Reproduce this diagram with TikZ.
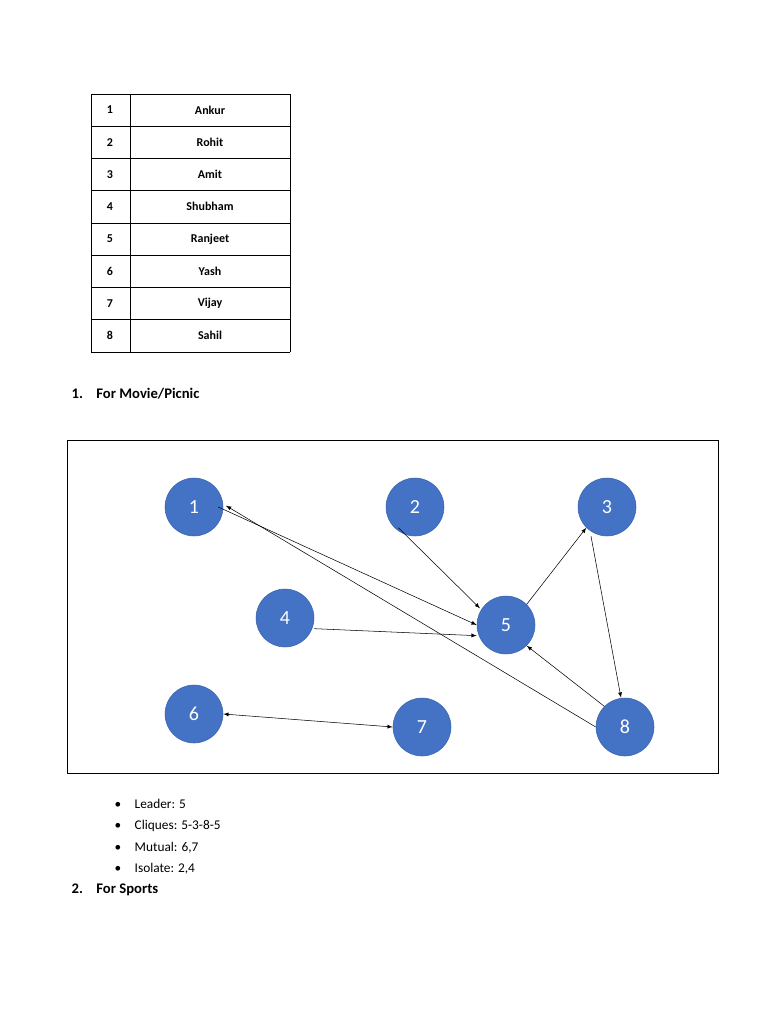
\documentclass[tikz,border=0pt]{standalone}
\usepackage{fontspec}
\setmainfont{Carlito}
\definecolor{nodeblue}{HTML}{4472C4}
\definecolor{nodeedge}{HTML}{3A63AD}
\begin{document}
\begin{tikzpicture}[x=0.75pt,y=-0.75pt,
  pn/.style={circle,fill=nodeblue,draw=nodeedge,minimum size=58*0.75pt,inner sep=0pt,text=white,font=\fontsize{15}{15}\selectfont},
  cell/.style={font=\fontsize{9}{10}\selectfont\bfseries},
  ar/.style={-latex,thin},
  hd/.style={font=\fontsize{11}{13}\selectfont\bfseries,anchor=west},
  bl/.style={font=\fontsize{10}{12}\selectfont,anchor=west}]
\useasboundingbox (0,0) rectangle (768,1024);
% table
\foreach \i in {0,...,8}{\draw[thin] (91,{94+\i*32.25}) -- (290,{94+\i*32.25});}
\draw[thin] (91,94) -- (91,352) (130,94) -- (130,352) (290,94) -- (290,352);
\foreach \n/\name [count=\k from 0] in {1/Ankur,2/Rohit,3/Amit,4/Shubham,5/Ranjeet,6/Yash,7/Vijay,8/Sahil}{
  \node[cell] (num\n) at (110,{110+\k*32.25}) {\n};
  \node[cell] (nm\n) at (210,{110+\k*32.25}) {\name};
}
\node[hd] (h1) at (67,394) {1.\hspace{10pt}For Movie/Picnic};
\draw[thin] (67,440) rectangle (718,773);
\node[pn] (n1) at (194,507) {1};
\node[pn] (n2) at (415,507) {2};
\node[pn] (n3) at (607,507) {3};
\node[pn] (n4) at (285,618) {4};
\node[pn] (n5) at (506,625) {5};
\node[pn] (n6) at (194,714) {6};
\node[pn] (n7) at (422,727) {7};
\node[pn] (n8) at (625,727) {8};
\draw[ar] ([xshift=-5*0.75pt]n1.east) -- (n5.west);
\draw[ar] (n8.west) -- ([shift={(2pt,1pt)}]n1.east);
\draw[ar] (n2.south west) ++(3pt,0) -- ([shift={(-4pt,-3pt)}]n5.north west);
\draw[ar] ([yshift=-8pt]n4.east) -- ([yshift=-8pt]n5.west);
\draw[ar] (n5.north east) -- (n3.south west);
\draw[ar] ([xshift=-12pt]n3.south) -- ([xshift=-3pt]n8.north);
\draw[ar] (n8.north west) -- (n5.south east);
\draw[latex-latex,thin] (n6.east) -- (n7.west);
\foreach \t [count=\k from 0] in {Leader: 5,Cliques: 5-3-8-5,Mutual: 6\,7,Isolate: 2\,4}{}
\node[bl] (b1) at (110,804) {\textbullet\hspace{10pt}Leader: 5};
\node[bl] (b2) at (110,826) {\textbullet\hspace{10pt}Cliques: 5-3-8-5};
\node[bl] (b3) at (110,848) {\textbullet\hspace{10pt}Mutual: 6,7};
\node[bl] (b4) at (110,869) {\textbullet\hspace{10pt}Isolate: 2,4};
\node[hd] (h2) at (67,890) {2.\hspace{10pt}For Sports};
\end{tikzpicture}
\end{document}
